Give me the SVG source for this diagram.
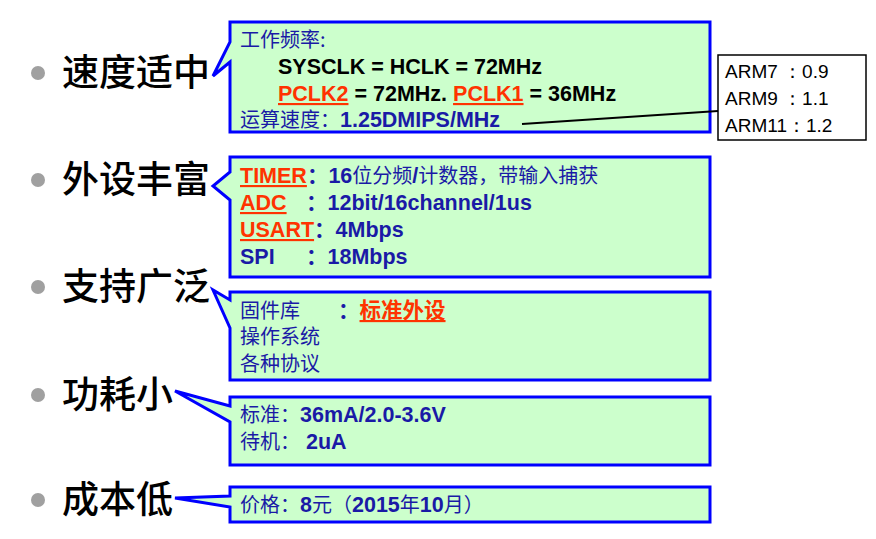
<svg xmlns="http://www.w3.org/2000/svg" width="876" height="539" viewBox="0 0 876 539">
<style>
.b{fill:#ccffcc;stroke:#0000ff;stroke-width:3;stroke-linejoin:miter}
.h{font-family:"Noto Sans CJK SC",sans-serif;font-size:37px;fill:#000;font-weight:500}
.t{font-family:"Liberation Sans","Noto Sans CJK SC",sans-serif;font-size:21.5px;fill:#1a1aa6;font-weight:bold}
.c{font-family:"Noto Sans CJK SC",serif;font-size:20px;fill:#1a1aa6;font-weight:normal}
.r{fill:#ff3300;text-decoration:underline}
.k{fill:#000}
.bl{fill:#a0a0a0}
</style>
<rect width="876" height="539" fill="#fff"/>
<g id="bullets">
<circle class="bl" cx="38" cy="73" r="7"/><text class="h" x="62" y="86">速度适中</text>
<circle class="bl" cx="38" cy="180" r="7"/><text class="h" x="62" y="193">外设丰富</text>
<circle class="bl" cx="38" cy="287" r="7"/><text class="h" x="62" y="300">支持广泛</text>
<circle class="bl" cx="38" cy="395" r="7"/><text class="h" x="62" y="408">功耗小</text>
<circle class="bl" cx="38" cy="500" r="7"/><text class="h" x="62" y="513">成本低</text>
</g>
<g id="box1">
<path class="b" d="M230,22H710V132H230V62L213,76L230,42Z"/>
<text class="c" x="240" y="47">工作频率:</text>
<text class="t k" x="278" y="74">SYSCLK = HCLK = 72MHz</text>
<text class="t k" x="278" y="101"><tspan class="r">PCLK2</tspan> = 72MHz. <tspan class="r">PCLK1</tspan> = 36MHz</text>
<text class="t" x="240" y="127"><tspan class="c">运算速度：</tspan>1.25DMIPS/MHz</text>
</g>
<g id="box2">
<path class="b" d="M230,157H710V277H230V200L213,186L230,172Z"/>
<text class="t" x="240" y="183"><tspan class="r">TIMER</tspan>：16<tspan class="c">位分频</tspan>/<tspan class="c">计数器，带输入捕获</tspan></text>
<text class="t" x="240" y="210"><tspan class="r">ADC</tspan></text><text class="t" x="306" y="210">：12bit/16channel/1us</text>
<text class="t" x="240" y="237"><tspan class="r">USART</tspan>：4Mbps</text>
<text class="t" x="240" y="264">SPI</text><text class="t" x="306" y="264">：18Mbps</text>
</g>
<g id="box3">
<path class="b" d="M230,292H710V380H230V328L213,290L230,300Z"/>
<text class="c" x="240" y="318">固件库</text><text class="t" x="338" y="318">：<tspan class="r">标准外设</tspan></text>
<text class="c" x="240" y="344">操作系统</text>
<text class="c" x="240" y="371">各种协议</text>
</g>
<g id="box4">
<path class="b" d="M230,397H710V465H230V422L175,391L230,406Z"/>
<text class="t" x="240" y="422"><tspan class="c">标准：</tspan>36mA/2.0-3.6V</text>
<text class="t" x="240" y="449"><tspan class="c">待机：</tspan>  2uA</text>
</g>
<g id="box5">
<path class="b" d="M230,487H710V522H230V507L175,498L230,496Z"/>
<text class="t" x="240" y="512"><tspan class="c">价格：</tspan>8<tspan class="c">元（</tspan>2015<tspan class="c">年</tspan>10<tspan class="c">月）</tspan></text>
</g>
<g id="connectors">
<line x1="522" y1="124" x2="718" y2="111" stroke="#000" stroke-width="2"/>
</g>
<g id="arm">
<rect x="718" y="55" width="148" height="85" fill="#fff" stroke="#000" stroke-width="1.5"/>
<g font-family="Liberation Sans,sans-serif" font-size="19" fill="#000">
<text x="725" y="78">ARM7  ：0.9</text>
<text x="725" y="105">ARM9  ：1.1</text>
<text x="725" y="132">ARM11：1.2</text>
</g>
</g>
</svg>
